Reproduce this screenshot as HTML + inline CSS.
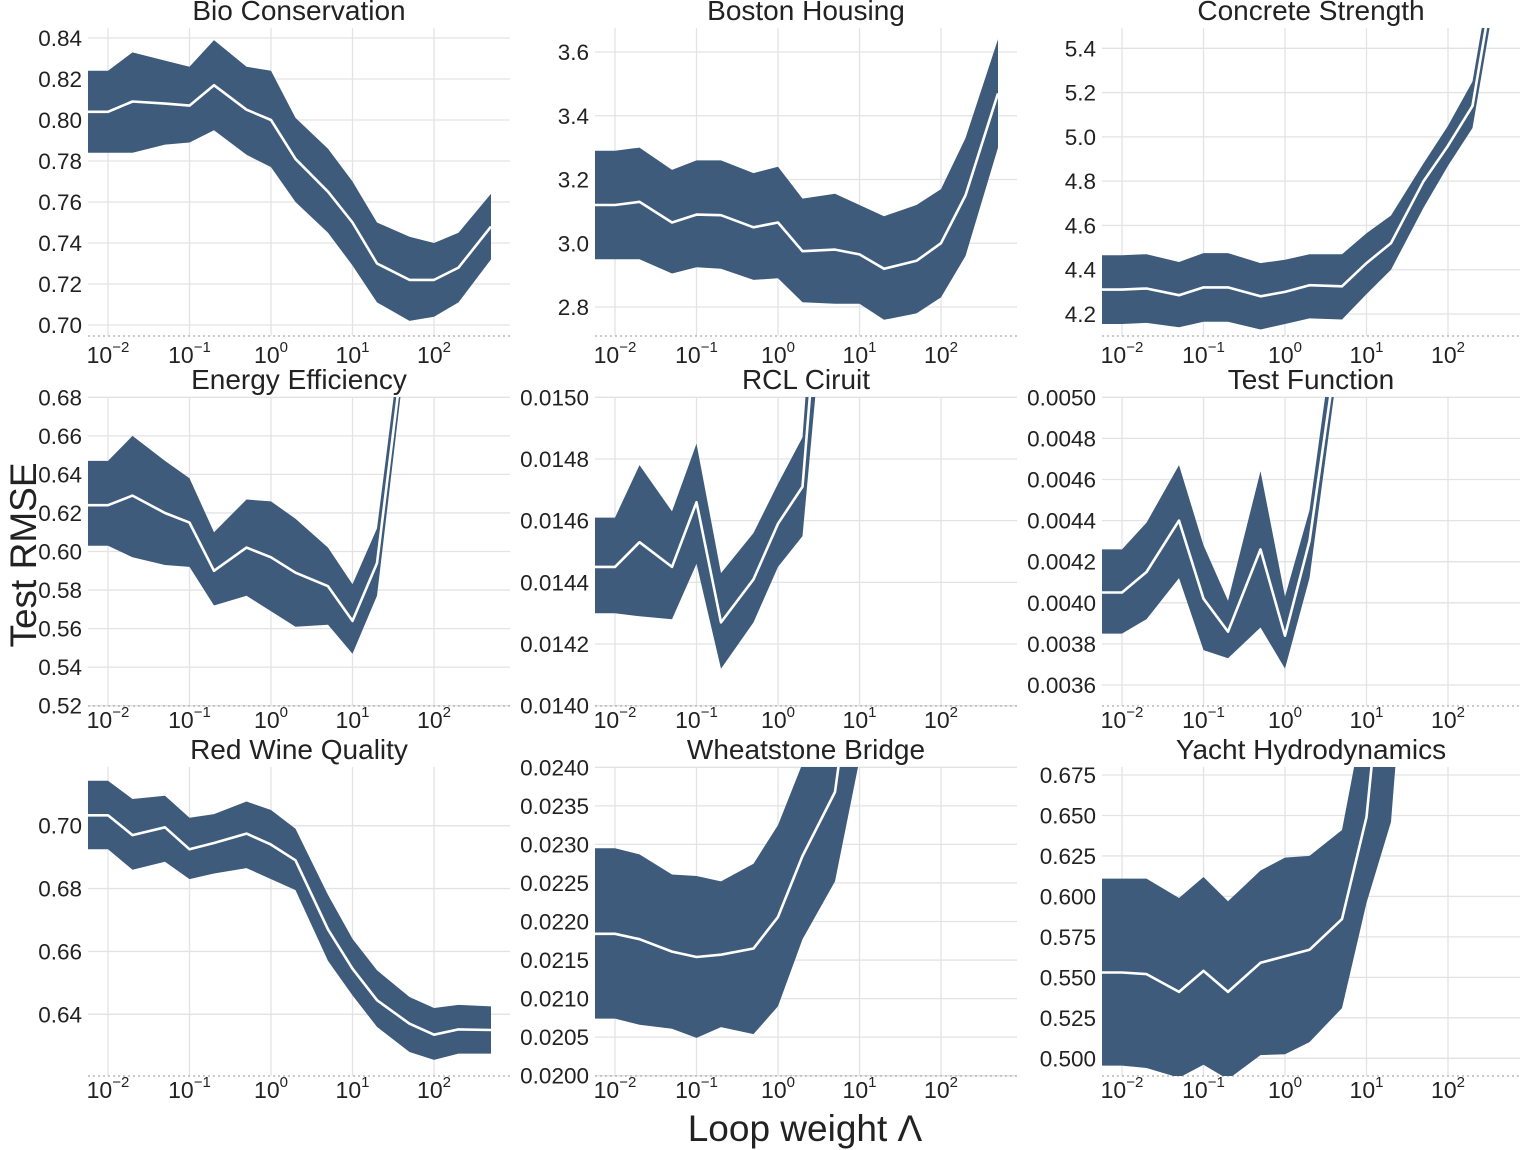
<!DOCTYPE html>
<html><head><meta charset="utf-8"><style>
html,body{margin:0;padding:0;background:#fff;}
svg{display:block;font-family:"Liberation Sans",Arial,sans-serif;}
</style></head><body>
<svg id="s" width="1526" height="1150" xmlns="http://www.w3.org/2000/svg"></svg>
<script>
const NS="http://www.w3.org/2000/svg";
const S=document.getElementById('s');
function el(t,a,p){const e=document.createElementNS(NS,t);for(const k in a)e.setAttribute(k,a[k]);(p||S).appendChild(e);return e;}
const XS=[0.005,0.01,0.02,0.05,0.1,0.2,0.5,1,2,5,10,20,50,100,200,500];
const colOff=[0,507,1014], rowTop=[28,397,767], rowBot=[336,706,1076], tickY=[363,728,1098];
const P=[
 {t:"Bio Conservation",c:0,r:0,ref:[0.84,38,0.70,325],ticks:[0.70,0.84,0.02],d:2,
  m:[.804,.804,.809,.808,.807,.817,.805,.800,.781,.765,.750,.730,.722,.722,.728,.748],
  lo:[.784,.784,.784,.788,.789,.795,.783,.777,.760,.745,.729,.711,.702,.704,.711,.732],
  hi:[.824,.824,.833,.829,.826,.839,.826,.824,.801,.786,.770,.750,.743,.740,.745,.764]},
 {t:"Boston Housing",c:1,r:0,ref:[3.6,52,2.8,307],ticks:[2.8,3.6,0.2],d:1,
  m:[3.12,3.12,3.13,3.065,3.09,3.088,3.05,3.065,2.975,2.98,2.965,2.92,2.945,3.0,3.15,3.47],
  lo:[2.95,2.95,2.95,2.905,2.925,2.92,2.885,2.89,2.815,2.81,2.81,2.76,2.78,2.83,2.96,3.30],
  hi:[3.29,3.29,3.30,3.23,3.26,3.26,3.22,3.24,3.14,3.155,3.12,3.085,3.12,3.17,3.33,3.64]},
 {t:"Concrete Strength",c:2,r:0,ref:[5.4,48.3,4.2,314],ticks:[4.2,5.4,0.2],d:1,
  m:[4.31,4.31,4.315,4.285,4.32,4.32,4.28,4.30,4.33,4.325,4.43,4.52,4.80,4.96,5.14,6.0],
  lo:[4.155,4.155,4.16,4.14,4.165,4.165,4.13,4.155,4.18,4.175,4.29,4.40,4.68,4.87,5.04,5.9],
  hi:[4.465,4.465,4.47,4.435,4.475,4.475,4.43,4.445,4.47,4.47,4.565,4.645,4.88,5.05,5.25,6.1]},
 {t:"Energy Efficiency",c:0,r:1,ref:[0.68,397.3,0.52,705.7],ticks:[0.52,0.68,0.02],d:2,
  m:[.624,.624,.629,.620,.615,.590,.602,.597,.589,.582,.564,.594,.73,1,1,1],
  lo:[.603,.603,.597,.593,.592,.572,.577,.569,.561,.562,.547,.577,.72,1,1,1],
  hi:[.647,.647,.660,.647,.638,.610,.627,.626,.617,.602,.583,.612,.745,1,1,1]},
 {t:"RCL Ciruit",c:1,r:1,ref:[0.0150,397.3,0.0140,705.7],ticks:[0.0140,0.0150,0.0002],d:4,
  m:[.01445,.01445,.01453,.01445,.01466,.01427,.01441,.01459,.01471,.0160,.02,.02,.02,.02,.02,.02],
  lo:[.01430,.01430,.01429,.01428,.01446,.01412,.01427,.01445,.01455,.0157,.02,.02,.02,.02,.02,.02],
  hi:[.01461,.01461,.01478,.01463,.01485,.01443,.01456,.01472,.01487,.0163,.02,.02,.02,.02,.02,.02]},
 {t:"Test Function",c:2,r:1,ref:[0.0050,397.3,0.0036,685],ticks:[0.0036,0.0050,0.0002],d:4,
  m:[.00405,.00405,.00415,.00440,.00402,.00386,.00426,.00384,.00430,.0054,.01,.01,.01,.01,.01,.01],
  lo:[.00385,.00385,.00392,.00412,.00377,.00373,.00388,.00368,.00412,.0053,.01,.01,.01,.01,.01,.01],
  hi:[.00426,.00426,.00439,.00467,.00428,.00401,.00464,.00403,.00445,.0056,.01,.01,.01,.01,.01,.01]},
 {t:"Red Wine Quality",c:0,r:2,ref:[0.70,825.7,0.64,1014.3],ticks:[0.64,0.70,0.02],d:2,
  m:[.7033,.7033,.697,.6995,.6925,.6945,.6975,.694,.689,.667,.6545,.6445,.6370,.6335,.6352,.6350],
  lo:[.6925,.6925,.686,.6885,.683,.6848,.6865,.683,.6795,.657,.646,.636,.628,.6255,.6275,.6275],
  hi:[.7143,.7143,.7085,.7095,.7025,.7037,.7077,.7050,.6990,.678,.664,.654,.6455,.6420,.6430,.6425]},
 {t:"Wheatstone Bridge",c:1,r:2,ref:[0.0240,767.3,0.0200,1075.7],ticks:[0.0200,0.0240,0.0005],d:4,
  m:[.02184,.02184,.02177,.02161,.02154,.02157,.02165,.02206,.02285,.02368,.026,.03,.03,.03,.03,.03],
  lo:[.02074,.02074,.02066,.02061,.02049,.02063,.02054,.02090,.02177,.02252,.0241,.03,.03,.03,.03,.03],
  hi:[.02295,.02295,.02287,.02261,.02259,.02252,.02275,.02325,.02405,.0252,.028,.03,.03,.03,.03,.03]},
 {t:"Yacht Hydrodynamics",c:2,r:2,ref:[0.675,775,0.500,1058.3],ticks:[0.500,0.675,0.025],d:3,
  m:[.553,.553,.552,.541,.554,.541,.559,.563,.567,.586,.649,.80,1,1,1,1],
  lo:[.4955,.4955,.494,.488,.496,.487,.502,.5025,.510,.531,.596,.646,.9,1,1,1],
  hi:[.611,.611,.611,.599,.612,.597,.616,.624,.625,.641,.72,.85,1,1,1,1]}
];
const defs=el('defs',{});
P.forEach((p,i)=>{
 const xo=colOff[p.c], L=xo+88, R=Math.min(xo+510,1520), T=rowTop[p.r], B=rowBot[p.r];
 const X=v=>xo+108+81.5*(Math.log10(v)+2);
 const [v1,y1,v2,y2]=p.ref; const Y=v=>y1+(v-v1)*(y2-y1)/(v2-v1);
 const cp=el('clipPath',{id:'c'+i},defs); el('rect',{x:L,y:T,width:R-L,height:B-T},cp);
 const [a,b,st]=p.ticks; const n=Math.round((b-a)/st);
 for(let k=0;k<=n;k++){const v=a+k*st,y=Y(v);
  el('line',{x1:L,x2:R,y1:y,y2:y,stroke:'#e3e3e6','stroke-width':1.3});
  const tx=el('text',{x:L-6,y:y+8,'text-anchor':'end','font-size':22.5,fill:'#222'});tx.textContent=v.toFixed(p.d);}
 for(let e=-2;e<=2;e++){const x=X(Math.pow(10,e));
  el('line',{x1:x,x2:x,y1:T,y2:B,stroke:'#e3e3e6','stroke-width':1.3});
  const tx=el('text',{x:x,y:tickY[p.r],'text-anchor':'middle','font-size':23,fill:'#222'});
  const t1=el('tspan',{},tx);t1.textContent='10';
  const t2=el('tspan',{dy:-11,'font-size':15},tx);t2.textContent=(e<0?'\u2212':'')+Math.abs(e);}
 el('line',{x1:L,x2:R,y1:B,y2:B,stroke:'#aaa','stroke-width':1.2,'stroke-dasharray':'2,3'});
 const g=el('g',{'clip-path':'url(#c'+i+')'});
 let d='M'+XS.map((v,k)=>X(v).toFixed(1)+','+Y(p.hi[k]).toFixed(1)).join('L');
 d+='L'+XS.slice().reverse().map((v,k)=>{const j=XS.length-1-k;return X(v).toFixed(1)+','+Y(p.lo[j]).toFixed(1);}).join('L')+'Z';
 el('path',{d:d,fill:'#3e5b7b'},g);
 el('path',{d:'M'+XS.map((v,k)=>X(v).toFixed(1)+','+Y(p.m[k]).toFixed(1)).join('L'),fill:'none',stroke:'#fff','stroke-width':2.6,'stroke-linejoin':'round'},g);
 const tt=el('text',{x:(L+R)/2,y:T-8,'text-anchor':'middle','font-size':28,fill:'#222'});tt.textContent=p.t;
});
const yl=el('text',{x:0,y:0,transform:'translate(36,555) rotate(-90)','text-anchor':'middle','font-size':37,fill:'#222'});yl.textContent='Test RMSE';
const xl=el('text',{x:805,y:1141,'text-anchor':'middle','font-size':37,fill:'#222'});xl.textContent='Loop weight \u039B';
</script>
</body></html>
